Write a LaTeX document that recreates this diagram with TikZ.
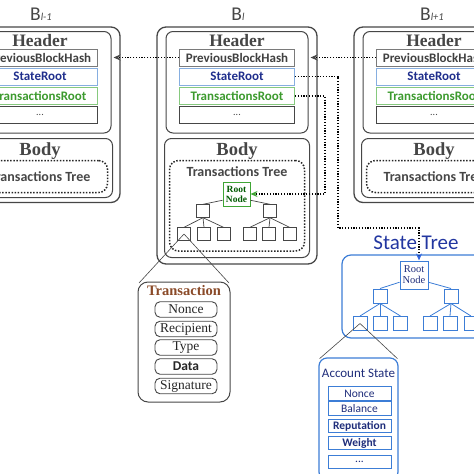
\documentclass[tikz,border=0pt]{standalone}
\usepackage{fontspec}
\setmainfont{Liberation Serif}
\newfontfamily\calfont{Carlito}
\usetikzlibrary{arrows.meta,calc}
\definecolor{dk}{HTML}{464646}
\definecolor{fgray}{HTML}{7A7A7A}
\definecolor{sblue}{HTML}{86AEE0}
\definecolor{navy}{HTML}{1F2E8C}
\definecolor{lgreen}{HTML}{86C97E}
\definecolor{tgreen}{HTML}{3C9A2E}
\definecolor{rgreen}{HTML}{3FA535}
\definecolor{tblue}{HTML}{3C7DD6}
\definecolor{ttblue}{HTML}{2236A0}
\definecolor{txbrown}{HTML}{8A4A28}
\definecolor{acnavy}{HTML}{1F2D7A}
\begin{document}
\begin{tikzpicture}[x=1pt,y=-1pt,
  outerbox/.style={draw=dk, line width=1.3pt, rounded corners=9pt, inner sep=0pt, minimum width=160pt},
  innerbox/.style={draw=dk, line width=1pt, rounded corners=7pt, inner sep=0pt},
  hfield/.style={line width=0.9pt, minimum width=115pt, minimum height=17pt, inner sep=0pt, font=\calfont\bfseries\fontsize{13}{13}\selectfont},
  htitle/.style={font=\bfseries\fontsize{17.5}{17.5}\selectfont, text=dk, inner sep=0pt},
  btitle/.style={font=\bfseries\fontsize{18.5}{18.5}\selectfont, text=dk, inner sep=0pt},
  ttree/.style={draw=black!85, line width=1.5pt, dash pattern=on 1.5pt off 1.6pt, rounded corners=9pt, inner sep=0pt, minimum width=135pt},
  tttext/.style={font=\calfont\bfseries\fontsize{14}{14}\selectfont, text=dk, inner sep=0pt},
  blabel/.style={inner sep=0pt, text=dk},
  sq/.style={draw=dk, line width=0.9pt, minimum width=13pt, minimum height=12.5pt, inner sep=0pt},
  ssq/.style={draw=tblue, line width=1pt, minimum width=14pt, minimum height=14pt, inner sep=0pt},
  tedge/.style={draw=dk, line width=0.7pt},
  sedge/.style={draw=tblue, line width=0.8pt},
  dotline/.style={line width=1.2pt, dash pattern=on 1.2pt off 1.6pt},
  tabline/.style={draw=dk, line width=0.6pt},
  txfield/.style={draw=dk, line width=0.9pt, rounded corners=5pt, minimum width=62pt, minimum height=15.5pt, inner sep=0pt, font=\fontsize{13.5}{13.5}\selectfont, text=black!85},
  acfield/.style={draw=tblue, line width=0.9pt, minimum width=63pt, minimum height=13.5pt, inner sep=0pt, font=\calfont\fontsize{11.5}{11.5}\selectfont, text=acnavy}
]
\useasboundingbox (0,0) rectangle (474,474);
\clip (0,0) rectangle (474,474);

% titles
\node[blabel] (tL) at (41,14) {\calfont\fontsize{19.5}{19.5}\selectfont B\fontsize{10.5}{10.5}\selectfont\itshape l-1};
\node[blabel] (tM) at (238,14) {\calfont\fontsize{19.5}{19.5}\selectfont B\fontsize{10.5}{10.5}\selectfont\itshape l};
\node[blabel] (tR) at (432,14) {\calfont\fontsize{19.5}{19.5}\selectfont B\fontsize{10.5}{10.5}\selectfont\itshape l+1};

% blocks
\foreach \n/\c/\oh/\bh in {L/40/175.5/59, M/237/237/119, R/434/175.5/59}{
  \node[outerbox, minimum height=\oh pt] (\n-out) at (\c,{27+\oh/2}) {};
  \node[innerbox, minimum width=142pt, minimum height=101.5pt] (\n-hdr) at (\c,82.25) {};
  \node[htitle] (\n-htxt) at (\c,41) {Header};
  \node[hfield, draw=fgray, text=black!75] (\n-prev) at (\c,57.5) {PreviousBlockHash};
  \node[hfield, draw=sblue, text=navy] (\n-state) at (\c,76.5) {StateRoot};
  \node[hfield, draw=lgreen, text=tgreen] (\n-tx) at (\c,96) {TransactionsRoot};
  \node[hfield, draw=dk, text=dk, font=\calfont\fontsize{10}{10}\selectfont] (\n-dots) at (\c,115) {...};
  \node[innerbox, minimum width=145pt, minimum height=\bh pt] (\n-body) at (\c,{138.5+\bh/2}) {};
  \node[btitle] (\n-btxt) at (\c,151) {Body};
}

% transactions tree boxes
\node[ttree, minimum height=32pt] (L-tt) at (40,176.5) {};
\node[tttext] (L-ttt) at (40,176.5) {Transactions Tree};
\node[ttree, minimum height=32pt] (R-tt) at (434,176.5) {};
\node[tttext] (R-ttt) at (434,176.5) {Transactions Tree};
\node[ttree, minimum height=90.5pt] (M-tt) at (237,205.75) {};
\node[tttext] (M-ttt) at (237,172) {Transactions Tree};

% middle transaction tree
\node[draw=rgreen, line width=1pt, minimum width=27pt, minimum height=24pt, inner sep=0pt, align=center,
      font=\bfseries\fontsize{9.5}{10}\selectfont, text=green!35!black] (troot) at (236.5,194) {Root\\Node};
\node[sq] (t11) at (203,211) {};
\node[sq] (t12) at (270,211) {};
\node[sq] (t21) at (184,234) {};
\node[sq] (t22) at (204,234) {};
\node[sq] (t23) at (223.5,234) {};
\node[sq] (t24) at (250,234) {};
\node[sq] (t25) at (269,234) {};
\node[sq] (t26) at (289.5,234) {};
\draw[tedge] ($(troot.west)!0.5!(troot.south west)$) -- (t11.north);
\draw[tedge] ($(troot.east)!0.5!(troot.south east)$) -- (t12.north);
\foreach \k in {t21,t22,t23}{\draw[tedge] (t11.south) -- (\k.north);}
\foreach \k in {t24,t25,t26}{\draw[tedge] (t12.south) -- (\k.north);}

% state tree
\node[font=\calfont\fontsize{21}{21}\selectfont, text=ttblue, inner sep=0pt] (sttxt) at (416,243) {State Tree};
\node[draw=tblue, line width=1.2pt, rounded corners=9pt, minimum width=160pt, minimum height=83pt, inner sep=0pt] (stbox) at (422,296.5) {};
\node[draw=tblue, line width=1pt, minimum width=28pt, minimum height=28pt, inner sep=0pt, align=center,
      font=\fontsize{10.5}{11}\selectfont, text=acnavy] (sroot) at (414,275) {Root\\Node};
\node[ssq] (s11) at (380,296) {};
\node[ssq] (s12) at (451,296) {};
\node[ssq] (s21) at (360,323.5) {};
\node[ssq] (s22) at (380,323.5) {};
\node[ssq] (s23) at (400.5,323.5) {};
\node[ssq] (s24) at (430,323.5) {};
\node[ssq] (s25) at (450,323.5) {};
\node[ssq] (s26) at (471,323.5) {};
\draw[sedge] ($(sroot.west)!0.5!(sroot.south west)$) -- (s11.north);
\draw[sedge] ($(sroot.east)!0.5!(sroot.south east)$) -- (s12.north);
\foreach \k in {s21,s22,s23}{\draw[sedge] (s11.south) -- (\k.north);}
\foreach \k in {s24,s25,s26}{\draw[sedge] (s12.south) -- (\k.north);}

% transaction detail
\node[draw=dk, line width=1pt, rounded corners=10pt, minimum width=92pt, minimum height=120pt, inner sep=0pt] (txbox) at (184,342) {};
\draw[tabline] (t21.center) -- ([xshift=1.5pt,yshift=-1.5pt]txbox.north west);
\draw[tabline] (t21.center) -- ([xshift=-1.5pt,yshift=-1.5pt]txbox.north east);
\node[font=\bfseries\fontsize{14.5}{14.5}\selectfont, text=txbrown, inner sep=0pt] (txtitle) at (184,291) {Transaction};
\node[txfield] (txnonce) at (186,309.5) {Nonce};
\node[txfield] (txrec) at (186,329) {Recipient};
\node[txfield] (txtype) at (186,347.5) {Type};
\node[txfield, font=\calfont\bfseries\fontsize{13.5}{13.5}\selectfont] (txdata) at (186,366.5) {Data};
\node[txfield] (txsig) at (186,386) {Signature};

% account state detail
\node[draw=tblue, line width=1.2pt, rounded corners=8pt, minimum width=79pt, minimum height=122pt, inner sep=0pt] (acct) at (358.5,419) {};
\draw[tabline] (s21.center) -- ([xshift=1.2pt,yshift=-1.2pt]acct.north west);
\draw[tabline] (s21.center) -- ([xshift=-1.2pt,yshift=-1.2pt]acct.north east);
\node[font=\calfont\fontsize{13}{13}\selectfont, text=acnavy, inner sep=0pt] (acttl) at (358.5,373) {Account State};
\node[acfield] (acnonce) at (359.5,393.5) {Nonce};
\node[acfield] (acbal) at (359.5,408.5) {Balance};
\node[acfield, font=\calfont\bfseries\fontsize{11.5}{11.5}\selectfont] (acrep) at (359.5,426) {Reputation};
\node[acfield, font=\calfont\bfseries\fontsize{11.5}{11.5}\selectfont] (acw) at (359.5,443) {Weight};
\node[acfield] (acdots) at (359.5,462) {...};

% connectors
\draw[dotline, -{Stealth[length=7pt,width=6pt,color=dk]}] (M-prev.west) -- ([xshift=2pt]M-prev.west -| L-hdr.east);
\draw[dotline, -{Stealth[length=7pt,width=6pt,color=dk]}] (R-prev.west) -- ([xshift=2pt]R-prev.west -| M-hdr.east);
\coordinate (sbend) at (338,228);
\draw[dotline, -{Stealth[length=7pt,width=6pt,color=tblue!80!blue]}] (M-state.east) -- (M-state.east -| sbend) -- (sbend) -| ([xshift=5pt]sroot.north);
\coordinate (tbend) at (325,96);
\draw[dotline, -{Stealth[length=7pt,width=6pt,color=rgreen]}] (M-tx.east) -- (tbend) |- (troot.east);
\end{tikzpicture}
\end{document}
